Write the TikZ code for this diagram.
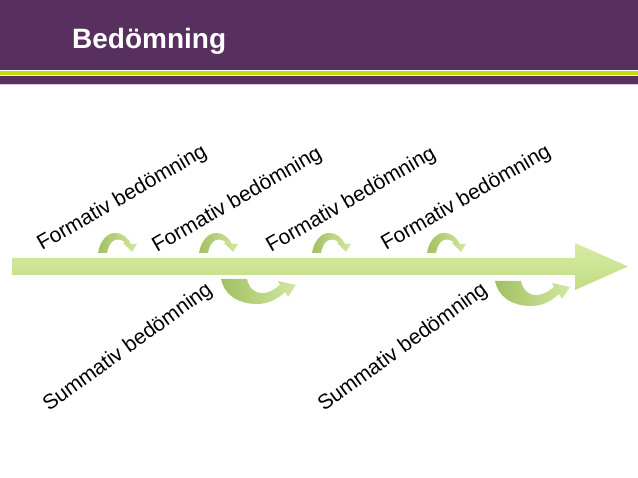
\documentclass[tikz,border=0pt]{standalone}
\usepackage{fontspec}
\setmainfont{Liberation Sans}
\definecolor{hdpurple}{HTML}{58305F}
\definecolor{hdgreen}{HTML}{C6DC0A}
\definecolor{hdlav}{HTML}{D8C8DC}
\definecolor{arrowtop}{HTML}{D6ECA4}
\definecolor{arrowbot}{HTML}{C2DC82}
\definecolor{arcdark}{HTML}{A2C062}
\definecolor{arclight}{HTML}{D2E8A0}
\tikzset{
  lbl/.style={inner sep=0pt, anchor=base west, font=\fontsize{21}{24}\selectfont, text=black},
  titlestyle/.style={inner sep=0pt, anchor=base west, font=\bfseries\fontsize{28}{30}\selectfont, text=white},
  formarc/.pic={
    \shade[left color=arcdark, right color=arclight]
      (0,0) .. controls (2,12) and (9,20) .. (17,20)
      .. controls (25,20) and (30,15) .. (33,9)
      -- (39,9) -- (34,1) -- (25,10) -- (27,10)
      .. controls (25,13) and (21,14) .. (17,13)
      .. controls (13,12) and (10,6) .. (9,0) -- cycle;
  },
  summarc/.pic={
    \shade[left color=arcdark, right color=arclight]
      (0,0) -- (26,0)
      .. controls (28,-9) and (33,-14) .. (41,-14)
      .. controls (49,-14) and (54,-10) .. (59,-6)
      -- (57,-2) -- (75,-6) -- (67,-18) -- (64,-13)
      .. controls (56,-21) and (46,-25) .. (36,-25)
      .. controls (16,-25) and (3,-15) .. (0,0) -- cycle;
  }
}
\begin{document}
\begin{tikzpicture}[x=1pt,y=1pt]
\useasboundingbox (0,0) rectangle (638,478);
\fill[white] (0,0) rectangle (638,478);
% header
\fill[hdpurple] (0,408) rectangle (638,478);
\fill[white] (0,401.5) rectangle (638,408);
\fill[hdgreen] (0,402.7) rectangle (638,407.3);
\fill[hdpurple] (0,393.7) rectangle (638,401.5);
\fill[hdlav] (0,392.7) rectangle (638,393.7);
\node[titlestyle] (title) at (72,429) {Bedömning};
% main arrow
\shade[top color=arrowtop, bottom color=arrowbot]
  (12,203) -- (575,203) -- (575,188) -- (628,211.5) -- (575,235) -- (575,220) -- (12,220) -- cycle;
% formative curved arrows
\pic (f1) at (98,225) {formarc};
\pic (f2) at (199,225) {formarc};
\pic (f3) at (312,225) {formarc};
\pic (f4) at (427,225) {formarc};
% summative curved arrows
\pic (s1) at (221,199) {summarc};
\pic (s2) at (495,197) {summarc};
% labels
\node[lbl, rotate=30] (t1) at (42,227) {Formativ bedömning};
\node[lbl, rotate=30] (t2) at (157,225) {Formativ bedömning};
\node[lbl, rotate=30] (t3) at (271,225) {Formativ bedömning};
\node[lbl, rotate=30] (t4) at (386,227) {Formativ bedömning};
\node[lbl, rotate=36] (t5) at (49,66) {Summativ bedömning};
\node[lbl, rotate=36] (t6) at (324,66) {Summativ bedömning};
\end{tikzpicture}
\end{document}
